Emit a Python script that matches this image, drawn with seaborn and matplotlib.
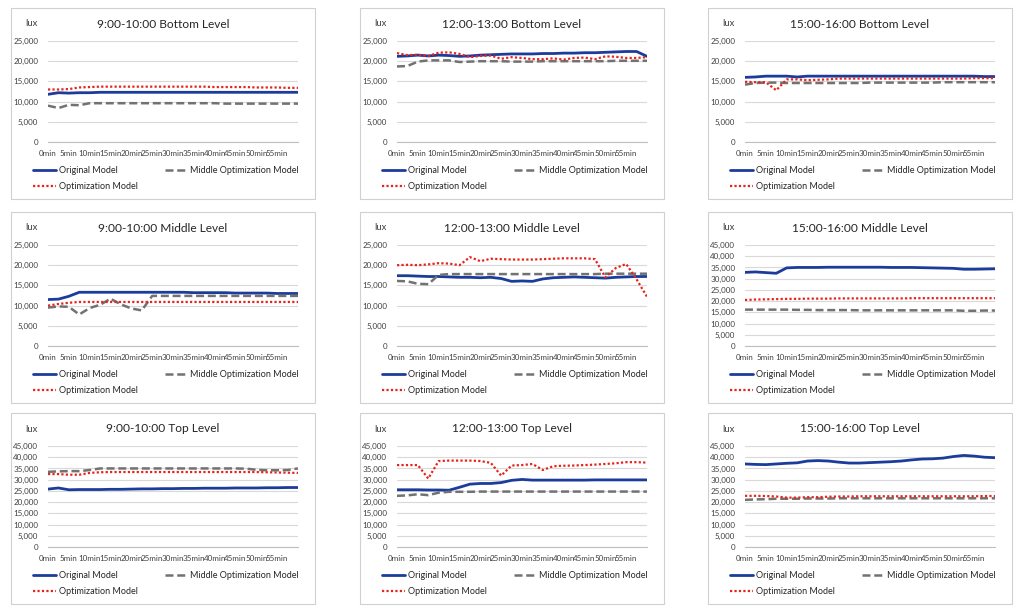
import numpy as np
import pandas as pd
import matplotlib
matplotlib.use("Agg")
import matplotlib.pyplot as plt
from matplotlib.lines import Line2D
from matplotlib.patches import Rectangle
import seaborn as sns

# ---------------- data ----------------
minutes = [0, 2.5, 5, 7.5, 10, 12.5, 15, 17.5, 20, 22.5, 25, 27.5, 30, 32.5, 35,
           37.5, 40, 42.5, 45, 47.5, 50, 52.5, 55, 57.5, 60]
tick_labels = ["0min", "5min", "10min", "15min", "20min", "25min", "30min",
               "35min", "40min", "45min", "50min", "55min"]
series_names = ["Original Model", "Middle Optimization Model", "Optimization Model"]

titles = ["9:00-10:00 Bottom Level", "12:00-13:00 Bottom Level", "15:00-16:00 Bottom Level",
          "9:00-10:00 Middle Level", "12:00-13:00 Middle Level", "15:00-16:00 Middle Level",
          "9:00-10:00 Top Level", "12:00-13:00 Top Level", "15:00-16:00 Top Level"]
y_max = [25000, 25000, 25000, 25000, 25000, 45000, 45000, 45000, 45000]

# 9:00-10:00 Bottom
orig_b9 = [11800, 12200, 12100, 12200, 12200, 12300, 12300, 12300, 12300, 12300, 12300, 12300, 12300,
           12300, 12300, 12300, 12300, 12300, 12300, 12300, 12300, 12300, 12300, 12300, 12300]
mid_b9 = [9000, 8400, 9200, 9100, 9600, 9600, 9600, 9600, 9600, 9600, 9600, 9600, 9600,
          9600, 9600, 9600, 9600, 9500, 9500, 9500, 9500, 9500, 9500, 9500, 9500]
opt_b9 = [13000, 13000, 13100, 13500, 13600, 13700, 13700, 13700, 13700, 13700, 13700, 13700, 13700,
          13700, 13700, 13700, 13600, 13600, 13600, 13600, 13500, 13500, 13500, 13400, 13400]
# 12:00-13:00 Bottom
orig_b12 = [21200, 21300, 21500, 21300, 21500, 21400, 21200, 21300, 21500, 21600, 21700, 21800, 21800,
            21800, 21900, 21900, 22000, 22000, 22100, 22100, 22200, 22300, 22400, 22400, 21200]
mid_b12 = [18700, 18800, 19900, 20200, 20200, 20200, 19800, 19900, 20000, 20000, 20000, 19900, 19900,
           19900, 20000, 20000, 20000, 20000, 20000, 20000, 20000, 20100, 20100, 20100, 20100]
opt_b12 = [22000, 21500, 21600, 21300, 22100, 22200, 21800, 21000, 21300, 21400, 20600, 21000, 20800,
           20500, 20500, 20700, 20400, 20800, 20900, 20500, 21200, 21100, 20800, 20800, 21000]
# 15:00-16:00 Bottom
orig_b15 = [16000, 16100, 16300, 16300, 16300, 16100, 16300, 16300, 16300, 16300, 16300, 16300, 16300,
            16300, 16300, 16300, 16300, 16300, 16300, 16300, 16300, 16300, 16300, 16200, 16200]
mid_b15 = [14200, 14600, 14700, 14700, 14600, 14600, 14600, 14600, 14600, 14600, 14600, 14600, 14700,
           14700, 14700, 14700, 14700, 14700, 14700, 14800, 14800, 14800, 14800, 14800, 14800]
opt_b15 = [14900, 14800, 14800, 12800, 15500, 15500, 15300, 15400, 15500, 15700, 15700, 15700, 15700,
           15700, 15700, 15700, 15700, 15700, 15700, 15700, 15700, 15700, 15800, 15800, 15800]
# 9:00-10:00 Middle
orig_m9 = [11500, 11600, 12300, 13300, 13300, 13300, 13300, 13300, 13300, 13300, 13300, 13300, 13300,
           13300, 13200, 13200, 13200, 13200, 13100, 13100, 13100, 13100, 13000, 13000, 13000]
mid_m9 = [9500, 9800, 9700, 7800, 9400, 10200, 11700, 10300, 9300, 8800, 12400, 12400, 12400,
          12400, 12400, 12400, 12400, 12400, 12400, 12400, 12400, 12400, 12400, 12400, 12400]
opt_m9 = [10000, 10400, 10700, 10900, 10900, 10900, 10900, 10900, 10900, 10900, 10900, 10900, 10900,
          10900, 10900, 10900, 10900, 10900, 10900, 10900, 10900, 10900, 10900, 10900, 10900]
# 12:00-13:00 Middle
orig_m12 = [17400, 17400, 17300, 17200, 17200, 17100, 17000, 17000, 16900, 17000, 16700, 16000, 16100,
            16000, 16600, 16900, 17000, 17100, 17000, 16900, 16800, 17000, 17100, 17200, 17200]
mid_m12 = [16100, 16000, 15400, 15300, 17600, 17800, 17800, 17800, 17800, 17800, 17800, 17800, 17800,
           17800, 17800, 17800, 17800, 17800, 17800, 17800, 17900, 17900, 17900, 17900, 17900]
opt_m12 = [20000, 20100, 20000, 20200, 20500, 20400, 20000, 22000, 21000, 21600, 21500, 21400, 21400,
           21400, 21500, 21600, 21700, 21700, 21700, 21500, 17000, 19300, 20300, 16500, 12200]
# 15:00-16:00 Middle
orig_m15 = [32800, 33000, 32700, 32400, 34800, 35000, 35000, 35000, 35100, 35100, 35100, 35100, 35100,
            35100, 35000, 35000, 35000, 34900, 34800, 34700, 34600, 34200, 34200, 34300, 34400]
mid_m15 = [16200, 16200, 16200, 16200, 16200, 16100, 16100, 16000, 16000, 16000, 16000, 15900, 15900,
           15900, 15900, 15900, 15900, 15900, 15900, 15900, 15900, 15700, 15700, 15800, 15800]
opt_m15 = [20500, 20700, 20800, 20900, 21000, 21000, 21100, 21100, 21100, 21200, 21200, 21200, 21200,
           21200, 21200, 21200, 21300, 21300, 21300, 21300, 21300, 21300, 21300, 21300, 21300]
# 9:00-10:00 Top
orig_t9 = [25800, 26300, 25500, 25600, 25600, 25600, 25700, 25700, 25800, 25900, 25900, 26000, 26000,
           26100, 26100, 26200, 26200, 26200, 26300, 26300, 26300, 26400, 26400, 26500, 26500]
mid_t9 = [33500, 33700, 33800, 33800, 34300, 35000, 35000, 35000, 35000, 35000, 35000, 35000, 35000,
          35000, 35000, 35000, 35000, 35000, 35000, 34900, 34400, 34200, 34200, 34300, 35000]
opt_t9 = [32500, 32500, 32200, 32200, 33000, 33300, 33400, 33400, 33400, 33400, 33400, 33400, 33400,
          33400, 33400, 33400, 33400, 33400, 33400, 33400, 33400, 33300, 33200, 33100, 33000]
# 12:00-13:00 Top
orig_t12 = [25500, 25500, 25500, 25400, 25400, 25300, 26600, 28000, 28300, 28300, 28700, 29700, 30100,
            29800, 29800, 29800, 29800, 29800, 29800, 29900, 29900, 29900, 29900, 29900, 29900]
mid_t12 = [22800, 23000, 23500, 23100, 24200, 24600, 24600, 24600, 24700, 24700, 24700, 24700, 24700,
           24700, 24700, 24700, 24700, 24700, 24700, 24700, 24700, 24700, 24700, 24700, 24700]
opt_t12 = [36500, 36500, 36500, 30500, 38300, 38500, 38500, 38500, 38300, 37500, 31800, 36300, 36500,
           37000, 34300, 36000, 36200, 36300, 36500, 36700, 37000, 37300, 37800, 37800, 37600]
# 15:00-16:00 Top
orig_t15 = [37000, 36800, 36700, 37000, 37300, 37500, 38300, 38500, 38300, 37800, 37400, 37400, 37600,
            37800, 38000, 38300, 38800, 39200, 39300, 39600, 40300, 40800, 40500, 40000, 39800]
mid_t15 = [21000, 21200, 21300, 21500, 21500, 21500, 21600, 21600, 21600, 21700, 21700, 21700, 21700,
           21700, 21700, 21700, 21700, 21700, 21700, 21700, 21700, 21700, 21700, 21700, 21700]
opt_t15 = [22800, 22800, 22700, 22500, 22000, 22000, 22200, 22200, 22400, 22500, 22500, 22600, 22600,
           22600, 22600, 22600, 22600, 22600, 22600, 22600, 22600, 22600, 22600, 22700, 22700]

panels = [(orig_b9, mid_b9, opt_b9), (orig_b12, mid_b12, opt_b12), (orig_b15, mid_b15, opt_b15),
          (orig_m9, mid_m9, opt_m9), (orig_m12, mid_m12, opt_m12), (orig_m15, mid_m15, opt_m15),
          (orig_t9, mid_t9, opt_t9), (orig_t12, mid_t12, opt_t12), (orig_t15, mid_t15, opt_t15)]

# ---------------- style ----------------
sns.set_style("white")
plt.rcParams["font.family"] = ["Lato", "DejaVu Sans"]

palette = {"Original Model": "#1c3c9c", "Middle Optimization Model": "#727272",
           "Optimization Model": "#e8231c"}
dashes = {"Original Model": "", "Middle Optimization Model": (3.2, 1.5),
          "Optimization Model": (1, 1)}
sizes = {"Original Model": 2.0, "Middle Optimization Model": 1.8, "Optimization Model": 1.6}

W, H = 1024, 615
fig = plt.figure(figsize=(W / 100, H / 100), dpi=100)
fig.patch.set_facecolor("white")

col_left = [11, 360, 708]
row_top = [8, 212, 413]
box_w, box_h = 304, 191


def fx(x):
    return x / W


def fy(y):
    return 1 - y / H


for i, (title, ymax, vals) in enumerate(zip(titles, y_max, panels)):
    r, c = divmod(i, 3)
    bl, bt = col_left[c], row_top[r]
    # panel frame
    fig.add_artist(Rectangle((fx(bl), fy(bt + box_h)), box_w / W, box_h / H,
                             transform=fig.transFigure, facecolor="white",
                             edgecolor="#d0d0d0", linewidth=0.8, zorder=0))
    ax = fig.add_axes([fx(bl + 37), fy(bt + 134), 250 / W, 101 / H])
    df = pd.DataFrame({
        "minute": minutes * 3,
        "lux": list(vals[0]) + list(vals[1]) + list(vals[2]),
        "series": sum([[n] * len(minutes) for n in series_names], []),
    })
    sns.lineplot(data=df, x="minute", y="lux", hue="series", style="series", size="series",
                 palette=palette, dashes=dashes, sizes=sizes, hue_order=series_names,
                 style_order=series_names, size_order=series_names, legend=False, ax=ax,
                 zorder=3)
    ax.set_xlim(0, 60)
    ax.set_ylim(0, ymax)
    ax.set_yticks(np.arange(0, ymax + 1, 5000))
    ax.set_yticklabels([f"{v:,}" for v in np.arange(0, ymax + 1, 5000)])
    ax.set_xticks(minutes)
    ax.set_xticklabels([tick_labels[k // 2] if k % 2 == 0 and k // 2 < len(tick_labels) else ""
                        for k in range(len(minutes))])
    ax.set_xlabel("")
    ax.set_ylabel("")
    ax.grid(axis="y", color="#d9d9d9", linewidth=0.8, zorder=0)
    ax.set_axisbelow(True)
    for s in ["top", "right", "left"]:
        ax.spines[s].set_visible(False)
    ax.spines["bottom"].set_color("#bfbfbf")
    ax.spines["bottom"].set_linewidth(0.8)
    ax.tick_params(axis="x", length=2.5, width=0.6, color="#bfbfbf", labelsize=5.8,
                   labelcolor="#404040", pad=3)
    ax.tick_params(axis="y", length=0, labelsize=5.8, labelcolor="#404040", pad=7)
    ax.set_facecolor("none")

    fig.text(fx(bl + box_w / 2), fy(bt + 16), title, ha="center", va="center",
             fontsize=8.6, color="#262626")
    fig.text(fx(bl + 20), fy(bt + 16), "lux", ha="center", va="center",
             fontsize=6.8, color="#404040")

    handles = [Line2D([], [], color=palette[n], linewidth=sizes[n],
                      linestyle=(0, dashes[n]) if dashes[n] else "-") for n in series_names]
    # order so that column 1 = Original, Optimization ; column 2 = Middle
    fig.legend([handles[0], handles[2], handles[1]],
               [series_names[0], series_names[2], series_names[1]],
               loc="upper left", bbox_to_anchor=(fx(bl + 22), fy(bt + 158)),
               ncol=2, frameon=False, fontsize=6.5, handlelength=2.6, handletextpad=0.25,
               columnspacing=3.0, labelspacing=0.75, borderpad=0, borderaxespad=0,
               labelcolor="#262626")

fig.savefig("out.png", dpi=100, facecolor="white")
